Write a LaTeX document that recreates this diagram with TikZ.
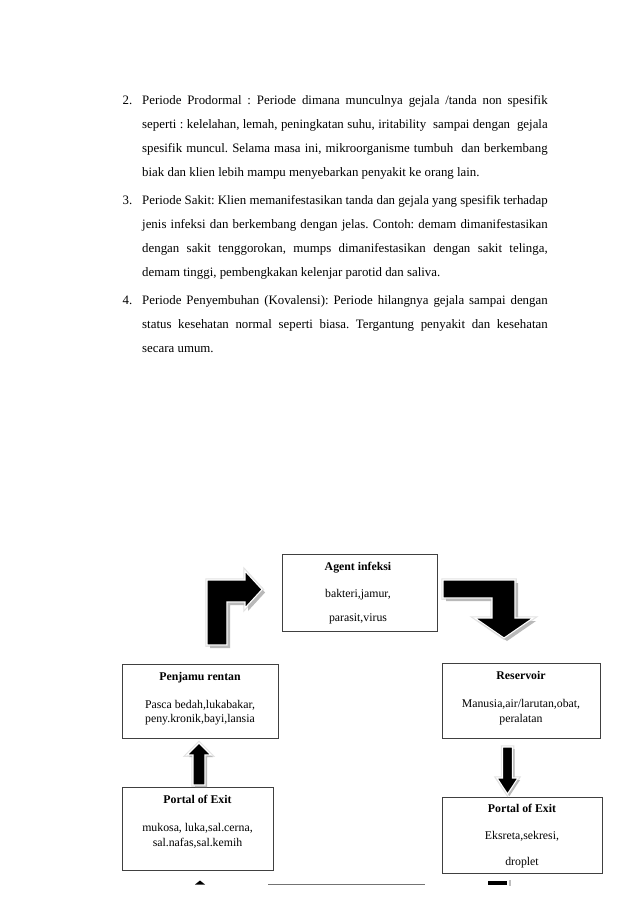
\documentclass[tikz,border=0pt]{standalone}
\usepackage{fontspec}
\setmainfont{Liberation Serif}
\frenchspacing
\newcommand\jl[1]{\makebox[405.5pt][s]{#1}}
\newcommand\blockarrow[2]{%
  \path[arrglow] #2;
  \path[arrshadow, shift={(#1,#1)}] #2;
  \path[arrbody] #2;}
\begin{document}
\begin{tikzpicture}[x=1pt,y=-1pt,
  para/.style={anchor=base west, inner sep=0pt, font=\fontsize{12.87}{15}\selectfont},
  boxst/.style={draw=black!75, line width=0.9pt, inner sep=0pt, anchor=north west},
  btxt/.style={anchor=base, inner sep=0pt, font=\fontsize{11.8}{14}\selectfont},
  ttl/.style={anchor=base, inner sep=0pt, font=\fontsize{11.8}{14}\selectfont\bfseries},
  arrglow/.style={draw=gray!22, line width=3.5pt, line join=miter},
  arrshadow/.style={fill=gray!55},
  arrbody/.style={fill=black, draw=white, line width=1.1pt, line join=miter}]
\useasboundingbox (0,0) rectangle (638,903);
\fill[white] (0,0) rectangle (638,903);
\clip (0,0) rectangle (638,903);

% ---------- paragraph 2 ----------
\node[para] (n2) at (122.5,104) {2.};
\node[para] (p2a) at (142,104) {\jl{Periode Prodormal : Periode dimana munculnya gejala /tanda non spesifik}};
\node[para] (p2b) at (142,128) {\jl{seperti : kelelahan, lemah, peningkatan suhu, iritability\ \ sampai dengan\ \ gejala}};
\node[para] (p2c) at (142,152) {\jl{spesifik muncul. Selama masa ini, mikroorganisme tumbuh\ \ dan berkembang}};
\node[para] (p2d) at (142,176) {biak dan klien lebih mampu menyebarkan penyakit ke orang lain.};
% ---------- paragraph 3 ----------
\node[para] (n3) at (122.5,204) {3.};
\node[para] (p3a) at (142,204) {\jl{Periode Sakit: Klien memanifestasikan tanda dan gejala yang spesifik terhadap}};
\node[para] (p3b) at (142,228) {\jl{jenis infeksi dan berkembang dengan jelas. Contoh: demam dimanifestasikan}};
\node[para] (p3c) at (142,252) {\jl{dengan sakit tenggorokan, mumps dimanifestasikan dengan sakit telinga,}};
\node[para] (p3d) at (142,276) {demam tinggi, pembengkakan kelenjar parotid dan saliva.};
% ---------- paragraph 4 ----------
\node[para] (n4) at (122.5,304) {4.};
\node[para] (p4a) at (142,304) {\jl{Periode Penyembuhan (Kovalensi): Periode hilangnya gejala sampai dengan}};
\node[para] (p4b) at (142,328) {\jl{status kesehatan normal seperti biasa. Tergantung penyakit dan kesehatan}};
\node[para] (p4c) at (142,352) {secara umum.};

% ---------- boxes ----------
\node[boxst, minimum width=155.5pt, minimum height=77pt] (agent) at (281.5,554) {};
\node[ttl]  (agentT) at (358,570) {Agent infeksi};
\node[btxt] (agent1) at (358,597) {bakteri,jamur,};
\node[btxt] (agent2) at (358,621) {parasit,virus};

\node[boxst, minimum width=156pt, minimum height=74pt] (host) at (122,664) {};
\node[ttl]  (hostT) at (200,680) {Penjamu rentan};
\node[btxt] (host1) at (200,708) {Pasca bedah,lukabakar,};
\node[btxt] (host2) at (200,722.5) {peny.kronik,bayi,lansia};

\node[boxst, minimum width=158pt, minimum height=75pt] (res) at (442,663) {};
\node[ttl]  (resT) at (521,679) {Reservoir};
\node[btxt] (res1) at (521,707) {Manusia,air/larutan,obat,};
\node[btxt] (res2) at (521,722) {peralatan};

\node[boxst, minimum width=151pt, minimum height=83pt] (pl) at (122,787) {};
\node[ttl]  (plT) at (197.5,803) {Portal of Exit};
\node[btxt] (pl1) at (197.5,831) {mukosa, luka,sal.cerna,};
\node[btxt] (pl2) at (197.5,846) {sal.nafas,sal.kemih};

\node[boxst, minimum width=160pt, minimum height=76pt] (pr) at (442,797) {};
\node[ttl]  (prT) at (522,812) {Portal of Exit};
\node[btxt] (pr1) at (522,839) {Eksreta,sekresi,};
\node[btxt] (pr2) at (522,865) {droplet};

% top edge of a box cut off at the bottom
\coordinate (cutL) at (268,884);
\coordinate (cutR) at (425,884);
\draw[black!55, line width=0.9pt] (cutL) -- (cutR);

% ---------- block arrows ----------
\blockarrow{3}{(207,645) -- (207,580) -- (245,580) -- (245,571) -- (262,589.5) -- (245,608) -- (245,602) -- (227,602) -- (227,645) -- cycle}
\blockarrow{3}{(443,580) -- (515,580) -- (515,618) -- (533,618) -- (504,638) -- (475,618) -- (492,618) -- (492,598) -- (443,598) -- cycle}
\blockarrow{2}{(193,785) -- (193,755) -- (187,755) -- (199,743) -- (211,755) -- (205,755) -- (205,785) -- cycle}
\blockarrow{2}{(502.5,747) -- (512.5,747) -- (512.5,778) -- (518,778) -- (507.5,794) -- (497,778) -- (502.5,778) -- cycle}

% fragments at the bottom edge
\fill[black] (195,884.5) -- (200,880.5) -- (205,884.5) -- cycle;
\fill[black] (488,881) rectangle (507,885);
\fill[gray!50] (509,880) rectangle (510.5,885.5);
\end{tikzpicture}
\end{document}
